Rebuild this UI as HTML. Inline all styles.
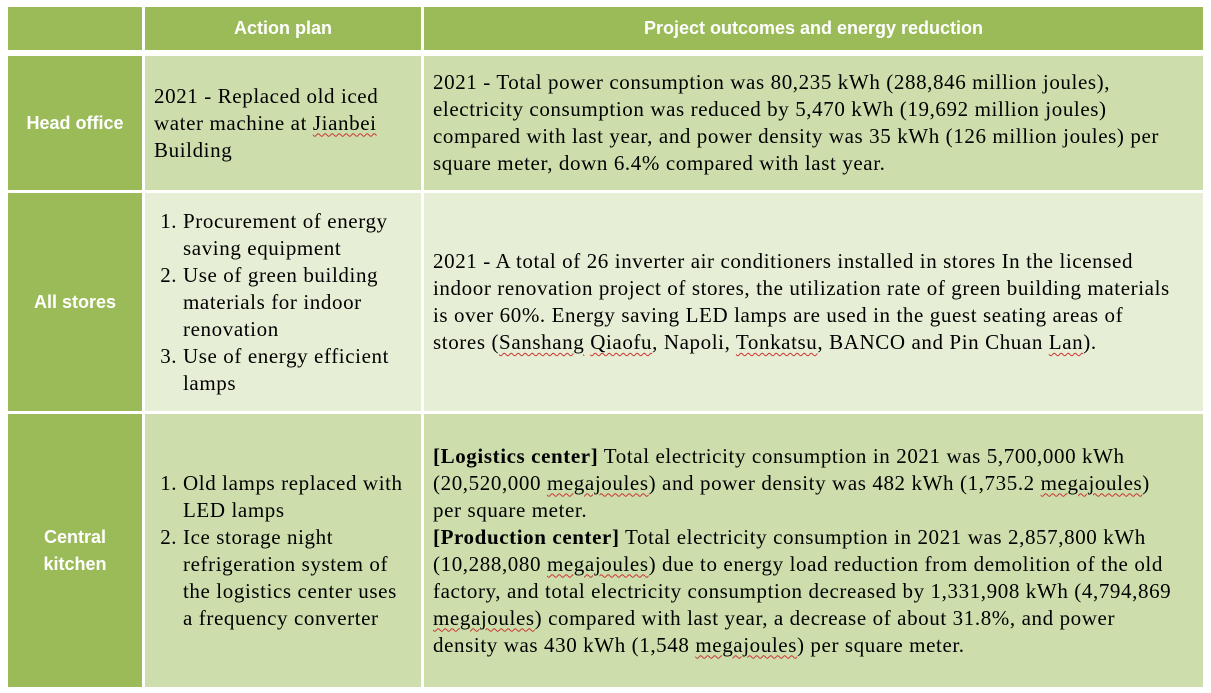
<!DOCTYPE html>
<html><head><meta charset="utf-8"><style>
body{margin:0;width:1211px;height:693px;background:#fff;position:relative;overflow:hidden}
.c{position:absolute;box-sizing:border-box;display:flex;align-items:center}
.h{background:#9BBB59;color:#fff;font:bold 18px "Liberation Sans",sans-serif;justify-content:center;text-align:center}
.s{background:#9BBB59;color:#fff;font:bold 18px "Liberation Sans",sans-serif;justify-content:center;text-align:center;line-height:27px}
.t{font:21px/27px "Liberation Serif",serif;letter-spacing:0.6px;color:#000;padding:0 9px;white-space:nowrap}
.d{background:#CDDDAC}.l{background:#E6EED5}
ol{margin:0;padding-left:29px}
ol li{padding-left:0}
u{text-decoration:underline wavy #c33;text-decoration-thickness:1px;text-underline-offset:3px}
</style></head><body>
<div class="c h" style="left:8px;top:7px;width:134px;height:43px"></div>
<div class="c h" style="left:145px;top:7px;width:276px;height:43px">Action plan</div>
<div class="c h" style="left:424px;top:7px;width:779px;height:43px">Project outcomes and energy reduction</div>

<div class="c s" style="left:8px;top:56px;width:134px;height:134px">Head office</div>
<div class="c t d" style="left:145px;top:56px;width:276px;height:134px"><div>2021 - Replaced old iced<br>water machine at <u>Jianbei</u><br>Building</div></div>
<div class="c t d" style="left:424px;top:56px;width:779px;height:134px"><div>2021 - Total power consumption was 80,235 kWh (288,846 million joules),<br>electricity consumption was reduced by 5,470 kWh (19,692 million joules)<br>compared with last year, and power density was 35 kWh (126 million joules) per<br>square meter, down 6.4% compared with last year.</div></div>

<div class="c s" style="left:8px;top:193px;width:134px;height:218px">All stores</div>
<div class="c t l" style="left:145px;top:193px;width:276px;height:218px"><ol><li>Procurement of energy<br>saving equipment</li><li>Use of green building<br>materials for indoor<br>renovation</li><li>Use of energy efficient<br>lamps</li></ol></div>
<div class="c t l" style="left:424px;top:193px;width:779px;height:218px"><div>2021 - A total of 26 inverter air conditioners installed in stores In the licensed<br>indoor renovation project of stores, the utilization rate of green building materials<br>is over 60%. Energy saving LED lamps are used in the guest seating areas of<br>stores (<u>Sanshang</u> <u>Qiaofu</u>, Napoli, <u>Tonkatsu</u>, BANCO and Pin Chuan <u>Lan</u>).</div></div>

<div class="c s" style="left:8px;top:414px;width:134px;height:273px">Central<br>kitchen</div>
<div class="c t d" style="left:145px;top:414px;width:276px;height:273px"><ol><li>Old lamps replaced with<br>LED lamps</li><li>Ice storage night<br>refrigeration system of<br>the logistics center uses<br>a frequency converter</li></ol></div>
<div class="c t d" style="left:424px;top:414px;width:779px;height:273px"><div><b>[Logistics center]</b> Total electricity consumption in 2021 was 5,700,000 kWh<br>(20,520,000 <u>megajoules</u>) and power density was 482 kWh (1,735.2 <u>megajoules</u>)<br>per square meter.<br><b>[Production center]</b> Total electricity consumption in 2021 was 2,857,800 kWh<br>(10,288,080 <u>megajoules</u>) due to energy load reduction from demolition of the old<br>factory, and total electricity consumption decreased by 1,331,908 kWh (4,794,869<br><u>megajoules</u>) compared with last year, a decrease of about 31.8%, and power<br>density was 430 kWh (1,548 <u>megajoules</u>) per square meter.</div></div>
</body></html>
